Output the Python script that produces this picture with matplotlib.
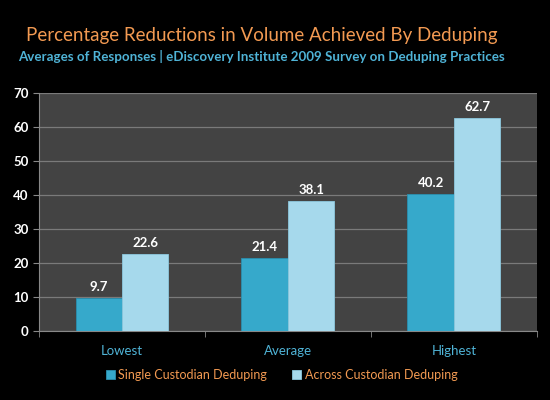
import matplotlib
matplotlib.use('Agg')
import matplotlib.pyplot as plt
import numpy as np

# Chart data.
categories = ['Lowest', 'Average', 'Highest']
single_custodian = [9.7, 21.4, 40.2]
across_custodian = [22.6, 38.1, 62.7]
series_names = ['Single Custodian Deduping', 'Across Custodian Deduping']

plt.rcParams['font.family'] = ['Lato', 'DejaVu Sans']

fig = plt.figure(figsize=(5.5, 4), dpi=100, facecolor='black')
ax = fig.add_axes([0.071, 0.1725, 0.905, 0.595])
ax.set_facecolor('#434343')

x = np.arange(len(categories))
w = 0.28
b1 = ax.bar(x - w / 2, single_custodian, w, color='#36A9CB',
            edgecolor='#2A8FAF', linewidth=0.6, zorder=3,
            label=series_names[0])
b2 = ax.bar(x + w / 2, across_custodian, w, color='#A6D9EC',
            edgecolor='#8CC8DE', linewidth=0.6, zorder=3,
            label=series_names[1])

# Value labels above bars.
for bars, vals in ((b1, single_custodian), (b2, across_custodian)):
    for r, v in zip(bars, vals):
        ax.text(r.get_x() + r.get_width() / 2, v + 1.5, '%.1f' % v,
                ha='center', va='bottom', color='white',
                fontsize=9.5, fontweight='bold')

ax.set_xlim(-0.5, 2.5)
ax.set_ylim(0, 70)
ax.set_yticks(range(0, 71, 10))
ax.yaxis.grid(True, color='#7A7A7A', linewidth=0.9, zorder=0)
ax.set_axisbelow(True)
ax.set_xticks(x)
ax.set_xticklabels(categories, color='#4FB3D6', fontsize=9.5)
ax.set_xticks([-0.5, 0.5, 1.5, 2.5], minor=True)
ax.tick_params(axis='x', which='major', length=0, pad=10)
ax.tick_params(axis='x', which='minor', length=4, color='#888888')
ax.tick_params(axis='y', colors='white', labelsize=9.5, length=4,
               color='#888888')
for lab in ax.get_yticklabels():
    lab.set_fontweight('bold')
for side in ('top', 'right'):
    ax.spines[side].set_visible(False)
ax.spines['left'].set_color('#888888')
ax.spines['bottom'].set_color('#888888')

# Titles.
fig.text(0.475, 0.912, 'Percentage Reductions in Volume Achieved By Deduping',
         ha='center', va='center', color='#F39A52', fontsize=13.5)
fig.text(0.475, 0.858,
         'Averages of Responses | eDiscovery Institute 2009 Survey on Deduping Practices',
         ha='center', va='center', color='#4FB3D6', fontsize=9.6,
         fontweight='bold')

leg = fig.legend(handles=[b1, b2], loc='center', bbox_to_anchor=(0.512, 0.062),
                 ncol=2, frameon=False, handlelength=0.7,
                 handleheight=0.7, handletextpad=0.3, columnspacing=2.0,
                 prop={'size': 9})
for t in leg.get_texts():
    t.set_color('#F39A52')

fig.savefig('out.png', dpi=100, facecolor='black')
